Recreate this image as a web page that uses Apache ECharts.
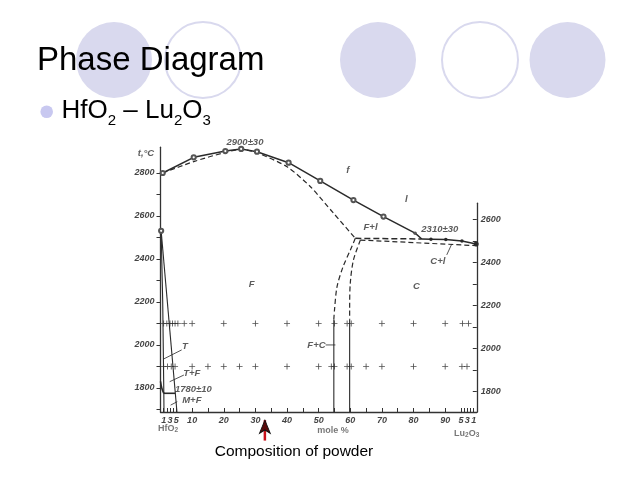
<!DOCTYPE html>
<html><head><meta charset="utf-8">
<script src="https://cdn.jsdelivr.net/npm/echarts@6/dist/echarts.min.js"></script>
<style>html,body{margin:0;padding:0;background:#fff}#c{width:638px;height:479px}</style>
</head><body><div id="c"></div>
<script>
// ---------------- data (mole % Lu2O3, temperature °C) ----------------
const liquidusX = [0.7, 10.5, 20.5, 25.5, 30.5, 40.5, 50.5, 61, 70.5, 80.5, 82.6];
const liquidusT = [2800, 2873, 2902, 2912, 2899, 2848, 2763, 2674, 2597, 2520, 2493];
const liquidusCX = [82.6, 85.5, 90.2, 95.3, 99.8];
const liquidusCT = [2493, 2492, 2490, 2484, 2470];
const solidusFX = [0.7, 10.5, 20.5, 25.5, 30.5, 40, 47.4, 54.7, 61.6];
const solidusFT = [2800, 2853, 2896, 2910, 2894, 2829, 2736, 2613, 2496];
const tieFLX = [61.6, 82.6];
const tieFLT = [2496, 2493];
const solidusCX = [63.2, 100];
const solidusCT = [2488, 2462];
const boundFX = [61.6, 60, 57.7, 55.8, 55, 54.8];
const boundFT = [2496, 2441, 2363, 2270, 2161, 2120];
const boundFLowX = [54.8, 54.8];
const boundFLowT = [2120, 1688];
const boundCX = [63.2, 61, 60, 59.8, 59.8];
const boundCT = [2488, 2395, 2287, 2163, 2120];
const boundCLowX = [59.8, 59.8];
const boundCLowT = [2120, 1688];
const tLeftX = [0.2, 0.7, 1.05, 1.1];
const tLeftT = [2531, 2200, 1775, 1688];
const tRightX = [0.2, 5.2];
const tRightT = [2531, 1688];
const eutectoidX = [1.05, 4.68];
const eutectoidT = [1775, 1775];
const mtX = [0, 0.4, 1.05];
const mtT = [1830, 1800, 1775];
const cross2100X = [1, 2, 3, 3.8, 4.6, 5.5, 7.5, 10, 20, 30, 40, 50, 55, 59, 60.3, 70, 80, 90, 95.5, 97.4];
const cross1900X = [1, 2.2, 3.4, 4.6, 10, 15, 20, 25, 30, 40, 50, 54, 55, 59, 60.3, 65, 70, 80, 90, 95.3, 96.9];
const crossRowT = [2100, 1900];
const labelText = ['t,°C', '2900±30', 'f', 'l', 'F+l', '2310±30', 'C+l', 'C', 'F', 'F+C', 'T', 'T+F', '1780±10', 'M+F'];
const labelX = [-4.6, 26.7, 59.2, 77.7, 66.4, 88.3, 87.7, 80.9, 28.8, 49.3, 7.7, 9.9, 10.4, 9.9];
const labelT = [2893, 2941, 2811, 2678, 2547, 2538, 2387, 2274, 2284, 1997, 1993, 1866, 1791, 1741];
const leaderLines = [
  [[6.7, 1977], [0.9, 1934]],
  [[7.4, 1860], [2.9, 1829]],
  [[5.3, 1736], [3.2, 1720]],
  [[52.2, 2000], [55.3, 2000]],
  [[90.5, 2419], [92.1, 2470]]
];
const axisNameText = ['mole %', 'HfO{s|2}', 'Lu{s|2}O{s|3}'];
const axisNameX = [54.5, 2.4, 96.8];
const axisNameT = [1604, 1613, 1590];
const arrowX = 33;
const arrowT = [1555, 1650];
const xTickValues = [1, 2, 3, 4, 5, 10, 15, 20, 25, 30, 35, 40, 45, 50, 55, 60, 65, 70, 75, 80, 85, 90, 95, 96, 97, 98, 99];
const xLabelValues = [1, 3, 5, 10, 20, 30, 40, 50, 60, 70, 80, 90, 95, 97, 99];
const xLabelText = ['1', '3', '5', '10', '20', '30', '40', '50', '60', '70', '80', '90', '5', '3', '1'];
const yTickValues = [1700, 1800, 1900, 2000, 2100, 2200, 2300, 2400, 2500, 2600, 2700, 2800];
const yLabelValues = [1800, 2000, 2200, 2400, 2600, 2800];
const yRightTickValues = [1800, 1900, 2000, 2100, 2200, 2300, 2400, 2500, 2600];
const yRightLabelValues = [1800, 2000, 2200, 2400, 2600];

// ---------------- chart ----------------
const pair = (xs, ts) => xs.map((x, i) => [x, ts[i]]);
const lineCol = '#2a2a2a';
const axisCol = '#333';
const labFont = {fontSize: 9, fontStyle: 'italic', fontWeight: 'bold', color: '#444', fontFamily: 'Liberation Sans'};

function ln(data, style, extra) {
  return Object.assign({
    type: 'line', xAxisIndex: 0, yAxisIndex: 0, data: data, symbol: 'none',
    silent: true, animation: false, lineStyle: style, clip: false
  }, extra || {});
}
const solid = {color: lineCol, width: 1.5, type: 'solid'};
const thin = {color: lineCol, width: 1.1, type: 'solid'};
const dash = {color: lineCol, width: 1.2, type: [5, 3]};

const crossPath = 'path://M4.3,0H5.7V4.3H10V5.7H5.7V10H4.3V5.7H0V4.3H4.3Z';

const series = [
  ln(pair(liquidusX, liquidusT), solid, {
    showSymbol: true,
    symbol: v => v[0] > 82 ? 'none' : (v[0] > 75 ? 'circle' : 'emptyCircle'),
    symbolSize: v => v[0] > 75 ? 3.5 : 4.2,
    itemStyle: {color: '#555', borderWidth: 0.8}
  }),
  ln(pair(liquidusCX, liquidusCT), solid, {
    showSymbol: true,
    symbol: v => v[0] < 83 ? 'none' : 'circle',
    symbolSize: v => v[0] > 99 ? 5 : 3.5,
    itemStyle: {color: lineCol}
  }),
  ln(pair(solidusFX, solidusFT), dash, {smooth: 0.25}),
  ln(pair(tieFLX, tieFLT), {color: lineCol, width: 1.5, type: [6, 3]}),
  ln(pair(solidusCX, solidusCT), dash),
  ln(pair(boundFX, boundFT), dash, {smooth: 0.3}),
  ln(pair(boundFLowX, boundFLowT), thin),
  ln(pair(boundCX, boundCT), dash, {smooth: 0.3}),
  ln(pair(boundCLowX, boundCLowT), thin),
  ln(pair(tLeftX, tLeftT), thin, {
    showSymbol: true,
    symbol: v => v[1] > 2500 ? 'emptyCircle' : 'none',
    symbolSize: 4.2, itemStyle: {color: '#555', borderWidth: 0.8}
  }),
  ln(pair(tRightX, tRightT), thin),
  ln(pair(eutectoidX, eutectoidT), {color: lineCol, width: 1.6}),
  ln(pair(mtX, mtT), {color: lineCol, width: 1.6}, {smooth: 0.4})
];
leaderLines.forEach(l => series.push(ln(l, {color: lineCol, width: 0.8})));

series.push({
  type: 'scatter', xAxisIndex: 0, yAxisIndex: 0, silent: true, animation: false,
  symbol: crossPath, symbolSize: 6, itemStyle: {color: '#222'},
  data: cross2100X.map(x => [x, crossRowT[0]]).concat(cross1900X.map(x => [x, crossRowT[1]]))
});
series.push({
  type: 'scatter', xAxisIndex: 0, yAxisIndex: 0, silent: true, animation: false, clip: false,
  symbolSize: 1, itemStyle: {color: 'rgba(0,0,0,0)'},
  data: labelText.map((t, i) => ({name: t, value: [labelX[i], labelT[i]]})),
  label: {show: true, position: 'inside', formatter: '{b}', fontSize: 9.5, fontStyle: 'italic',
    fontWeight: 'bold', color: '#333', fontFamily: 'Liberation Sans'}
});
series.push({
  type: 'scatter', xAxisIndex: 0, yAxisIndex: 0, silent: true, animation: false, clip: false,
  symbolSize: 1, itemStyle: {color: 'rgba(0,0,0,0)'},
  data: axisNameText.map((t, i) => ({name: t, value: [axisNameX[i], axisNameT[i]]})),
  label: {show: true, position: 'inside', formatter: '{b}', fontSize: 9, fontWeight: 'bold',
    color: '#555', fontFamily: 'Liberation Sans',
    rich: {s: {fontSize: 6.5, fontWeight: 'bold', color: '#555', padding: [5, 0, 0, 0]}}}
});
// red arrow pointing at the powder composition
series.push({
  type: 'line', xAxisIndex: 0, yAxisIndex: 0, silent: true, animation: false, clip: false,
  showSymbol: true,
  data: [{value: [arrowX, arrowT[0]], symbol: 'none'},
         {value: [arrowX, arrowT[1]], symbol: 'arrow', symbolSize: [8, 13]}],
  lineStyle: {color: '#c8101a', width: 2.5},
  itemStyle: {color: '#5a0a0a', borderColor: '#111', borderWidth: 1}
});

// ---------------- slide text / decorations ----------------
const graphic = [];
const circles = [[114, 60, 1], [203, 60, 0], [378, 60, 1], [480, 60, 0], [567.5, 60, 1]];
circles.forEach(c => graphic.push({
  type: 'circle', z: 1, silent: true, shape: {cx: c[0], cy: c[1], r: 38},
  style: c[2] ? {fill: '#d9d9ee'} : {fill: 'rgba(0,0,0,0)', stroke: '#d9d9ee', lineWidth: 2}
}));
graphic.push({type: 'circle', z: 2, silent: true, shape: {cx: 46.7, cy: 111.7, r: 6.3}, style: {fill: '#c8c8f0'}});

const mctx = document.createElement('canvas').getContext('2d');
function txt(text, x, y, size, extra) {
  return Object.assign({
    type: 'text', z: 5, silent: true, x: x, y: y,
    style: {text: text, fontSize: size, fontFamily: 'Liberation Sans', fill: '#000',
      align: 'left', verticalAlign: 'middle', textAlign: 'left', textVerticalAlign: 'middle'}
  }, extra || {});
}
graphic.push(txt('Phase Diagram', 37, 61, 33));
const subPieces = [['HfO', 0], ['2', 1], [' – Lu', 0], ['2', 1], ['O', 0], ['3', 1]];
let sx = 61.5;
subPieces.forEach(p => {
  const size = p[1] ? 15 : 26;
  mctx.font = size + 'px "Liberation Sans"';
  graphic.push(txt(p[0], sx, p[1] ? 121 : 111, size));
  sx += mctx.measureText(p[0]).width;
});
const cap = txt('Composition of powder', 294, 452, 15.5);
cap.style.align = 'center'; cap.style.textAlign = 'center';
graphic.push(cap);

const plain = v => String(v);
const chart = echarts.init(document.getElementById('c'));
chart.setOption({
  animation: false,
  backgroundColor: '#fff',
  grid: [
    {left: 160.5, right: 161.2, top: 147.2, bottom: 67},
    {left: 160.5, right: 161.2, top: 203.2, bottom: 67}
  ],
  xAxis: [
    {type: 'value', gridIndex: 0, min: 0, max: 100,
      axisLine: {show: true, onZero: false, lineStyle: {color: axisCol, width: 1.3}},
      axisTick: {show: true, inside: true, length: 4, customValues: xTickValues, lineStyle: {color: axisCol}},
      axisLabel: Object.assign({show: true, margin: 4, customValues: xLabelValues,
        formatter: v => xLabelText[xLabelValues.indexOf(v)]}, labFont),
      splitLine: {show: false}},
    {type: 'value', gridIndex: 1, min: 0, max: 100, show: false}
  ],
  yAxis: [
    {type: 'value', gridIndex: 0, min: 1688, max: 2920, position: 'left',
      axisLine: {show: true, onZero: false, lineStyle: {color: axisCol, width: 1.3}},
      axisTick: {show: true, inside: false, length: 4, customValues: yTickValues, lineStyle: {color: axisCol}},
      axisLabel: Object.assign({show: true, margin: 6, customValues: yLabelValues, formatter: plain}, labFont),
      splitLine: {show: false}},
    {type: 'value', gridIndex: 1, min: 1704, max: 2676, position: 'right',
      axisLine: {show: true, onZero: false, lineStyle: {color: axisCol, width: 1.3}},
      axisTick: {show: true, inside: true, length: 4, customValues: yRightTickValues, lineStyle: {color: axisCol}},
      axisLabel: Object.assign({show: true, margin: 4, customValues: yRightLabelValues, formatter: plain}, labFont),
      splitLine: {show: false}}
  ],
  series: series,
  graphic: graphic
});
</script></body></html>
